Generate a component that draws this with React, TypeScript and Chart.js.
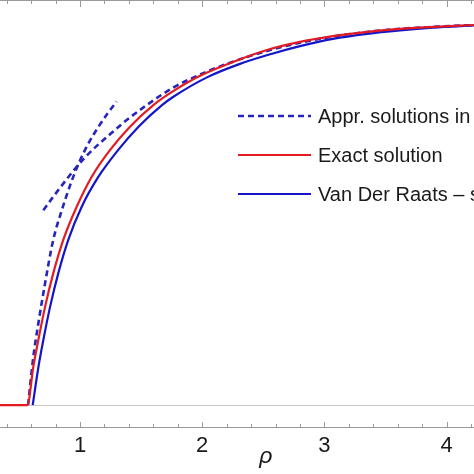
import React, { useEffect, useRef } from "react";
import { Chart, registerables } from "chart.js";

Chart.register(...registerables);

// ---- data ----
const exactRho = [0.345, 0.569, 0.618, 0.659, 0.714, 0.781, 0.863, 0.973, 1.096, 1.245, 1.409, 1.6, 1.737, 1.982, 2.252, 2.53, 2.8, 3.07, 3.349, 3.619, 3.889, 4.224];
const exactVal = [0, 0, 0.0995, 0.169, 0.255, 0.342, 0.429, 0.515, 0.593, 0.662, 0.723, 0.779, 0.81, 0.855, 0.891, 0.922, 0.943, 0.958, 0.969, 0.977, 0.982, 0.987];

const raatsRho = [0.613, 0.66, 0.7, 0.755, 0.822, 0.904, 1.014, 1.151, 1.311, 1.479, 1.671, 1.761, 2.039, 2.309, 2.579, 2.8, 3.07, 3.349, 3.619, 3.889, 4.224];
const raatsVal = [0, 0.0995, 0.169, 0.255, 0.342, 0.429, 0.515, 0.593, 0.662, 0.723, 0.779, 0.8, 0.851, 0.886, 0.913, 0.932, 0.951, 0.964, 0.973, 0.98, 0.986];

const smallRho = [0.575, 0.618, 0.659, 0.714, 0.781, 0.85, 0.918, 0.99, 1.07, 1.15, 1.225, 1.3];
const smallVal = [0, 0.125, 0.212, 0.316, 0.429, 0.505, 0.57, 0.628, 0.68, 0.722, 0.757, 0.788];

const largeRho = [0.7, 0.781, 0.863, 0.945, 1.041, 1.137, 1.245, 1.382, 1.546, 1.761, 2.039, 2.309, 2.579, 2.8, 3.07, 3.349, 3.619, 3.889, 4.224];
const largeVal = [0.506, 0.541, 0.575, 0.608, 0.643, 0.673, 0.703, 0.74, 0.779, 0.824, 0.866, 0.898, 0.924, 0.941, 0.957, 0.969, 0.977, 0.982, 0.987];

const xTickValues = [1, 2, 3, 4];
const xTickLabels = ["1", "2", "3", "4"];
const legendLabels = ["Appr. solutions in ", "Exact solution", "Van Der Raats – solution"];
const axisTitle = "ρ";

const RED = "#e31b23";
const BLUE = "#1515c8";
const DASH = "#2525bb";
const FONT = "'Liberation Sans', Arial, sans-serif";

const pts = (xs: number[], ys: number[]) => xs.map((x, i) => ({ x, y: ys[i] }));

const framePlugin = {
  id: "frameDeco",
  beforeDatasetsDraw(chart: any) {
    const { ctx, chartArea: a, scales } = chart;
    const y0 = Math.round(scales.y.getPixelForValue(0)) + 0.5;
    ctx.save();
    ctx.strokeStyle = "#cccccc";
    ctx.lineWidth = 1;
    ctx.beginPath();
    ctx.moveTo(a.left, y0);
    ctx.lineTo(a.right, y0);
    ctx.stroke();
    ctx.restore();
  },
  afterDraw(chart: any) {
    const { ctx, chartArea: a, scales } = chart;
    const x = scales.x;
    ctx.save();
    ctx.strokeStyle = "#9a9a9a";
    ctx.lineWidth = 1;
    // top frame line
    ctx.beginPath();
    ctx.moveTo(a.left, a.top + 0.5);
    ctx.lineTo(a.right, a.top + 0.5);
    ctx.stroke();
    // inward tick marks (top and bottom)
    for (let k = 1; k <= 22; k++) {
      const v = k / 5;
      if (v < x.min || v > x.max) continue;
      const px = Math.round(x.getPixelForValue(v)) + 0.5;
      const major = k % 5 === 0;
      const lenTop = major ? 7 : 4;
      const lenBot = major ? 5 : 3;
      ctx.beginPath();
      ctx.moveTo(px, a.top);
      ctx.lineTo(px, a.top + lenTop);
      ctx.moveTo(px, a.bottom);
      ctx.lineTo(px, a.bottom - lenBot);
      ctx.stroke();
    }
    // axis title
    ctx.fillStyle = "#1a1a1a";
    ctx.font = `italic 23px ${FONT}`;
    ctx.textAlign = "center";
    ctx.textBaseline = "alphabetic";
    ctx.fillText(axisTitle, x.getPixelForValue(2.52), 463);

    // legend
    const ds = chart.data.datasets;
    const items = [ds[1], ds[0], ds[3]];
    const ly = [116, 155, 194];
    ctx.font = `20px ${FONT}`;
    ctx.textAlign = "left";
    items.forEach((d: any, i: number) => {
      ctx.save();
      ctx.strokeStyle = d.borderColor;
      ctx.lineWidth = d.borderWidth;
      ctx.setLineDash(d.borderDash || []);
      ctx.beginPath();
      ctx.moveTo(238, ly[i]);
      ctx.lineTo(311, ly[i]);
      ctx.stroke();
      ctx.restore();
      ctx.fillStyle = "#1a1a1a";
      ctx.fillText(legendLabels[i], 318, ly[i] + 7);
    });
    ctx.restore();
  },
};

export default function App() {
  const ref = useRef<HTMLCanvasElement>(null);
  useEffect(() => {
    if (!ref.current) return;
    const common = { showLine: true, pointRadius: 0, cubicInterpolationMode: "monotone" as const, fill: false };
    const chart = new Chart(ref.current, {
      type: "scatter",
      data: {
        datasets: [
          { ...common, label: legendLabels[1], data: pts(exactRho, exactVal), borderColor: RED, borderWidth: 2.2, order: 1 },
          { ...common, label: legendLabels[0], data: pts(smallRho, smallVal), borderColor: DASH, borderWidth: 2.6, borderDash: [6, 4], order: 2 },
          { ...common, label: legendLabels[0] + "(2)", data: pts(largeRho, largeVal), borderColor: DASH, borderWidth: 2.6, borderDash: [6, 4], order: 3 },
          { ...common, label: legendLabels[2], data: pts(raatsRho, raatsVal), borderColor: BLUE, borderWidth: 2.2, order: 4 },
        ],
      },
      options: {
        responsive: false,
        animation: false,
        events: [],
        layout: { padding: { top: 0, left: 0, right: 0, bottom: 9 } },
        plugins: { legend: { display: false }, tooltip: { enabled: false } },
        scales: {
          x: {
            type: "linear",
            min: 0.3453,
            max: 4.2242,
            afterBuildTicks: (axis: any) => {
              axis.ticks = xTickValues.map((v) => ({ value: v }));
            },
            grid: { display: true, drawOnChartArea: false, drawTicks: false },
            border: { display: true, color: "#9a9a9a", width: 1 },
            ticks: {
              autoSkip: false,
              maxRotation: 0,
              padding: 0,
              color: "#1a1a1a",
              font: { family: FONT, size: 22, lineHeight: 1.725 },
              callback: (v: any) => {
                const i = xTickValues.indexOf(Number(v));
                return i >= 0 ? xTickLabels[i] : "";
              },
            },
          },
          y: {
            type: "linear",
            display: false,
            min: -0.0571,
            max: 1.0519,
          },
        },
      },
      plugins: [framePlugin],
    });
    return () => chart.destroy();
  }, []);
  return (
    <div style={{ position: "fixed", left: 0, top: 0, width: 474, height: 474, background: "#fff" }}>
      <canvas ref={ref} width={474} height={474} style={{ display: "block" }} />
    </div>
  );
}
